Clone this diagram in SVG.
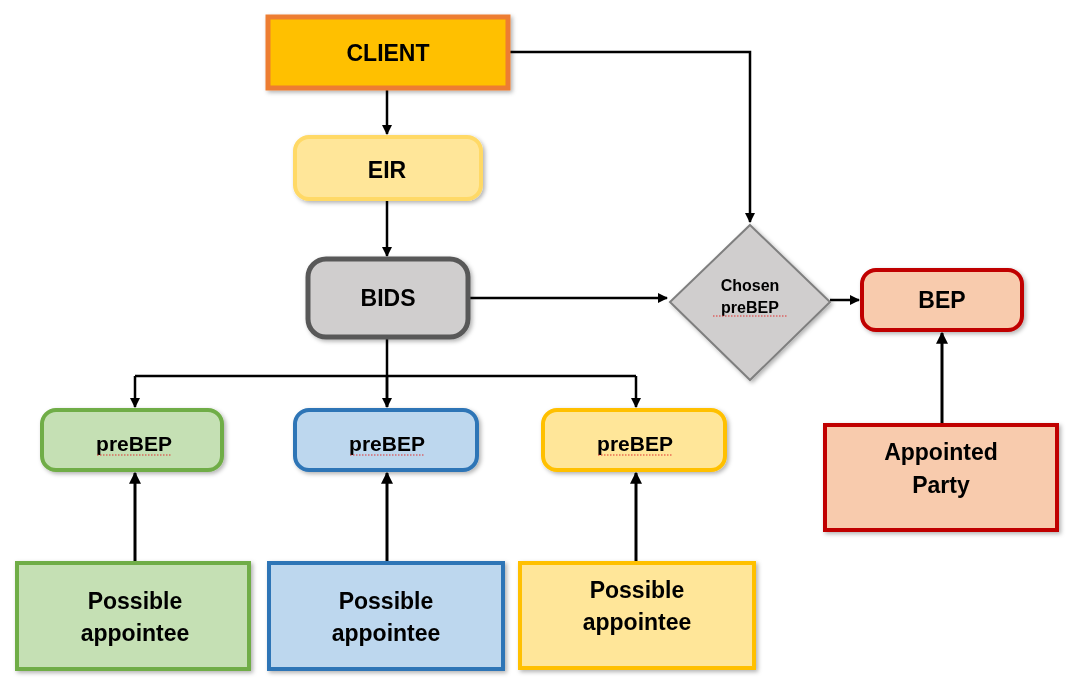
<svg xmlns="http://www.w3.org/2000/svg" width="1080" height="693" viewBox="0 0 1080 693">
<style>
text{font-family:"Liberation Sans",Arial,sans-serif;font-weight:bold;fill:#000;text-anchor:middle}
.big{font-size:23px}
.c{fill:none;stroke:#000;stroke-width:2.5}
.t{fill:none;stroke:#000;stroke-width:3}
.ul{stroke:#e03030;stroke-width:1.2;stroke-dasharray:1.5 1.5}
</style>
<defs>
<marker id="a" viewBox="0 0 10 10" refX="9" refY="5" markerWidth="4" markerHeight="4" orient="auto"><path d="M0,0L10,5L0,10z" fill="#000"/></marker>
<filter id="s" x="-10%" y="-10%" width="130%" height="130%"><feDropShadow dx="2" dy="2" stdDeviation="2" flood-opacity="0.3"/></filter>
</defs>
<rect width="1080" height="693" fill="#fff"/>
<g id="connectors">
<path class="c" d="M387,88V134" marker-end="url(#a)"/>
<path class="c" d="M387,199V256" marker-end="url(#a)"/>
<path class="c" d="M508,52H750V222" marker-end="url(#a)"/>
<path class="c" d="M468,298H667" marker-end="url(#a)"/>
<path class="c" d="M830,300H859" marker-end="url(#a)"/>
<path class="t" d="M942,425V333" marker-end="url(#a)"/>
<path class="c" d="M387,337V407"/>
<path class="c" d="M135,376H636"/>
<path class="c" d="M135,376V407" marker-end="url(#a)"/>
<path class="c" d="M636,376V407" marker-end="url(#a)"/>
<path class="c" d="M387,376V407" marker-end="url(#a)"/>
<path class="t" d="M135,563V473" marker-end="url(#a)"/>
<path class="t" d="M387,563V473" marker-end="url(#a)"/>
<path class="t" d="M636,563V473" marker-end="url(#a)"/>
</g>
<g id="client" filter="url(#s)"><rect x="268" y="17" width="240" height="71" fill="#FFC000" stroke="#ED7D31" stroke-width="5"/><text class="big" x="388" y="61">CLIENT</text></g>
<g id="eir" filter="url(#s)"><rect x="295" y="137" width="186" height="62" rx="14" fill="#FFE699" stroke="#FFD966" stroke-width="4"/><text class="big" x="387" y="178">EIR</text></g>
<g id="bids" filter="url(#s)"><rect x="308" y="259" width="160" height="78" rx="18" fill="#D0CECE" stroke="#595959" stroke-width="5"/><text class="big" x="388" y="306">BIDS</text></g>
<g id="chosen" filter="url(#s)"><path d="M750,225L830,302L750,380L670,302z" fill="#D0CECE" stroke="#7F7F7F" stroke-width="2"/><text x="750" y="291" font-size="16">Chosen</text><text x="750" y="313" font-size="16">preBEP</text><path class="ul" d="M713,316H788"/></g>
<g id="bep" filter="url(#s)"><rect x="862" y="270" width="160" height="60" rx="14" fill="#F8CBAD" stroke="#C00000" stroke-width="4"/><text class="big" x="942" y="308">BEP</text></g>
<g id="appointed" filter="url(#s)"><rect x="825" y="425" width="232" height="105" fill="#F8CBAD" stroke="#C00000" stroke-width="4"/><text class="big" x="941" y="460">Appointed</text><text class="big" x="941" y="493">Party</text></g>
<g id="prebep1" filter="url(#s)"><rect x="42" y="410" width="180" height="60" rx="14" fill="#C5E0B4" stroke="#70AD47" stroke-width="4"/><text font-size="21" x="134" y="451">preBEP</text><path class="ul" d="M97,455H172"/></g>
<g id="prebep2" filter="url(#s)"><rect x="295" y="410" width="182" height="60" rx="14" fill="#BDD7EE" stroke="#2E75B6" stroke-width="4"/><text font-size="21" x="387" y="451">preBEP</text><path class="ul" d="M350,455H425"/></g>
<g id="prebep3" filter="url(#s)"><rect x="543" y="410" width="182" height="60" rx="14" fill="#FFE699" stroke="#FFC000" stroke-width="4"/><text font-size="21" x="635" y="451">preBEP</text><path class="ul" d="M598,455H673"/></g>
<g id="app1" filter="url(#s)"><rect x="17" y="563" width="232" height="106" fill="#C5E0B4" stroke="#70AD47" stroke-width="4"/><text class="big" x="135" y="609">Possible</text><text class="big" x="135" y="641">appointee</text></g>
<g id="app2" filter="url(#s)"><rect x="269" y="563" width="234" height="106" fill="#BDD7EE" stroke="#2E75B6" stroke-width="4"/><text class="big" x="386" y="609">Possible</text><text class="big" x="386" y="641">appointee</text></g>
<g id="app3" filter="url(#s)"><rect x="520" y="563" width="234" height="105" fill="#FFE699" stroke="#FFC000" stroke-width="4"/><text class="big" x="637" y="598">Possible</text><text class="big" x="637" y="630">appointee</text></g>
</svg>
